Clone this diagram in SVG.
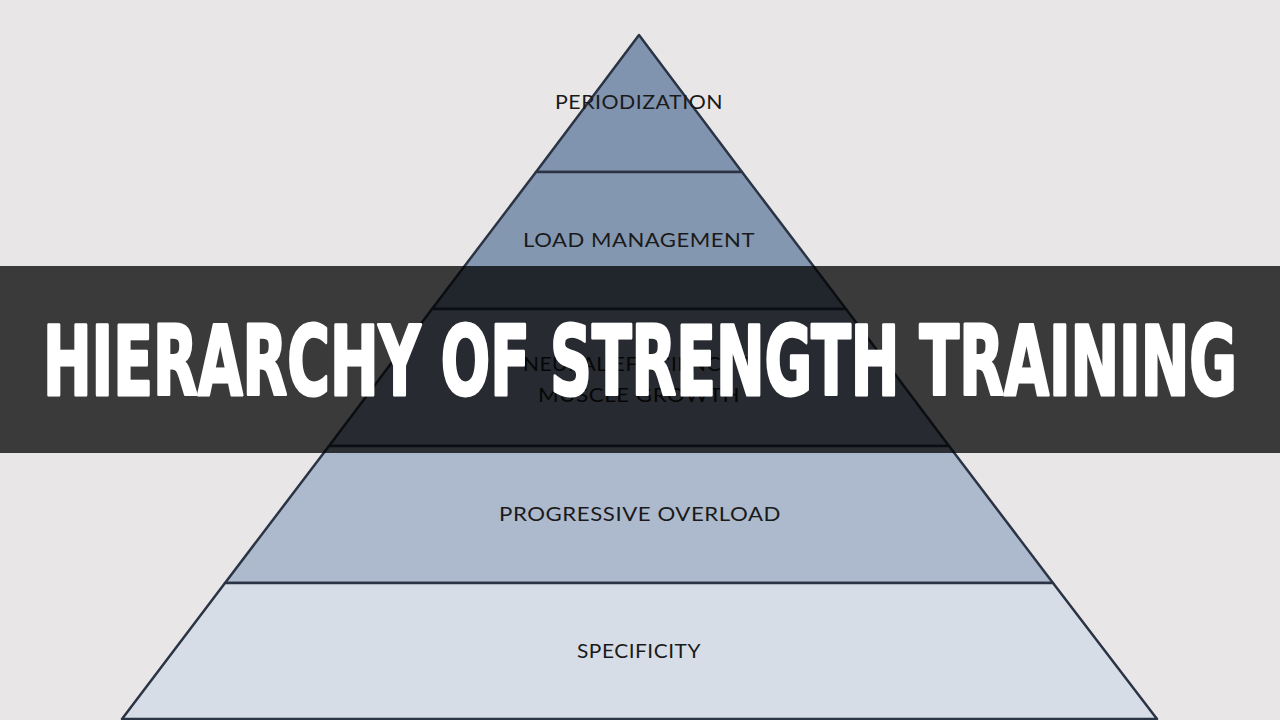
<svg xmlns="http://www.w3.org/2000/svg" width="1280" height="720" viewBox="0 0 1280 720">
<style>
.layer{stroke:#2b3445;stroke-width:2.5;stroke-linejoin:round}
.lbl{font-family:"Lato","Noto Sans","Liberation Sans",sans-serif;font-size:20px;fill:#1a1a1a;text-anchor:middle;letter-spacing:0.5px}
.title{font-family:"Liberation Sans Narrow","DejaVu Sans Condensed","Liberation Sans",sans-serif;font-weight:bold;font-size:96px;fill:#ffffff;stroke:#ffffff;stroke-width:3;stroke-linejoin:round}
</style>
<rect width="1280" height="720" fill="#e8e6e7"/>
<g id="layer-periodization">
<polygon class="layer" fill="#8094af" points="639,35 742,172 536,172"/>
<text class="lbl" x="639" y="109" textLength="168" lengthAdjust="spacingAndGlyphs">PERIODIZATION</text>
</g>
<g id="layer-load">
<polygon class="layer" fill="#8497b1" points="536,172 742,172 846,309 432,309"/>
<text class="lbl" x="639" y="247" textLength="232" lengthAdjust="spacingAndGlyphs">LOAD MANAGEMENT</text>
</g>
<g id="layer-neural">
<polygon class="layer" fill="#9aa9bf" points="432,309 846,309 949,446 329,446"/>
<text class="lbl" x="639" y="371" textLength="232" lengthAdjust="spacingAndGlyphs">NEURAL EFFICIENCY &amp;</text>
<text class="lbl" x="639" y="402" textLength="202" lengthAdjust="spacingAndGlyphs">MUSCLE GROWTH</text>
</g>
<g id="layer-overload">
<polygon class="layer" fill="#adb9cc" points="329,446 949,446 1053,583 225,583"/>
<text class="lbl" x="640" y="521" textLength="282" lengthAdjust="spacingAndGlyphs">PROGRESSIVE OVERLOAD</text>
</g>
<g id="layer-specificity">
<polygon class="layer" fill="#d6dde6" points="225,583 1053,583 1157,719 122,719"/>
<text class="lbl" x="639" y="658" textLength="124" lengthAdjust="spacingAndGlyphs">SPECIFICITY</text>
</g>
<g id="banner">
<rect x="0" y="266" width="1280" height="187" fill="#000000" fill-opacity="0.75"/>
<text class="title" x="43" y="395" textLength="1194" lengthAdjust="spacingAndGlyphs">HIERARCHY OF STRENGTH TRAINING</text>
</g>
<g id="connectors"/>
</svg>
